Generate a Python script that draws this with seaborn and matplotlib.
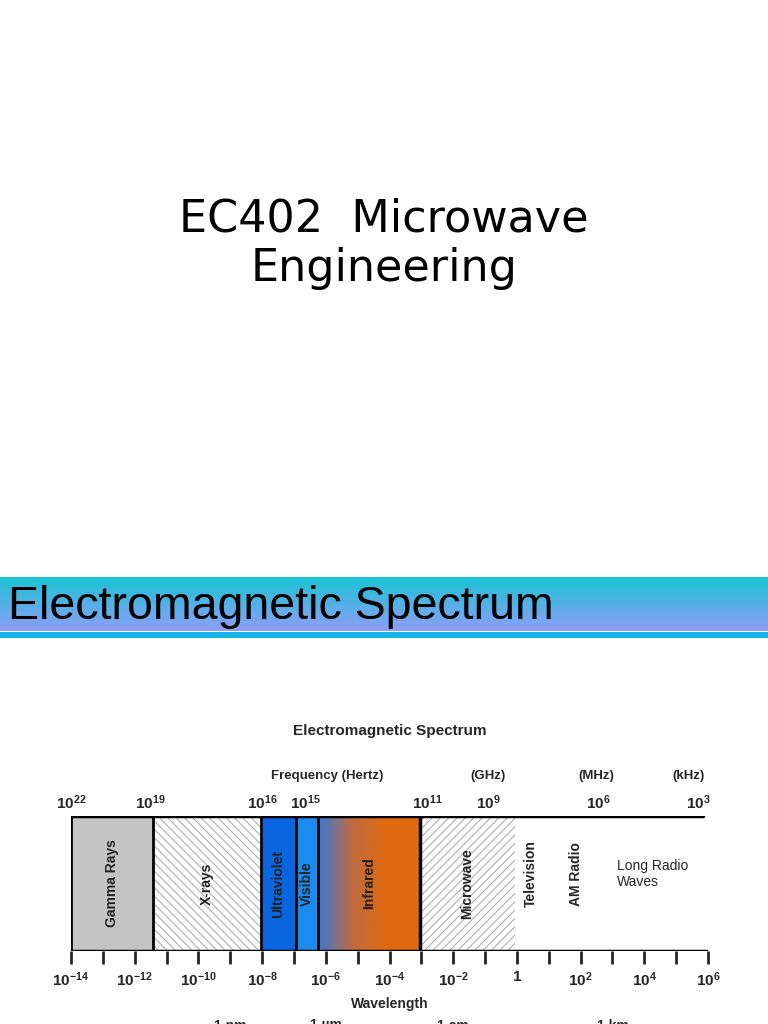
import numpy as np
import matplotlib
matplotlib.use('Agg')
import matplotlib.pyplot as plt
import seaborn as sns
from matplotlib.colors import LinearSegmentedColormap

sns.set_style('white')
plt.rcParams['font.family'] = ['DejaVu Sans']
plt.rcParams['mathtext.fontset'] = 'custom'
plt.rcParams['mathtext.rm'] = 'Liberation Sans'
plt.rcParams['mathtext.bf'] = 'Liberation Sans:bold'
plt.rcParams['hatch.color'] = '#b0b0b0'
plt.rcParams['hatch.linewidth'] = 0.8

# ── data: wavelength exponent (log10 m) ──
band_names  = ['Gamma Rays', 'X-rays', 'Ultraviolet', 'Visible', 'Infrared', 'Microwave']
band_start  = [-14.0, -11.43, -8.03, -6.94, -6.25, -3.04]
band_end    = [-11.43, -8.03, -6.94, -6.25, -3.04, -0.06]
band_colors = ['#c4c4c4', 'white', '#0a66e0', '#1a8cf0', None, 'white']
band_hatch  = [None, '\\\\\\\\', None, None, None, '////']
radio_names = ['Television', 'AM Radio']
radio_pos   = [0.45, 1.85]
wl_ticks    = list(range(-14, 7))
freq_labels = ['22', '19', '16', '15', '11', '9', '6', '3']
freq_pos    = [-14.0, -11.5, -8.0, -6.65, -2.82, -0.9, 2.55, 5.7]
unit_labels = ['Frequency (Hertz)', '(GHz)', '(MHz)', '(kHz)']
unit_pos    = [-5.96, -0.9, 2.5, 5.4]
scale_labels = ['1 nm', '1 \u00b5m', '1 cm', '1 km']
scale_pos    = [-9.0, -6.0, -2.0, 3.0]

fig = plt.figure(figsize=(7.68, 10.24), dpi=100)
W, H = 768, 1024

# ── slide title ──
fig.text(0.5, 1 - 244 / H, 'EC402  Microwave\nEngineering', ha='center', va='center',
         fontsize=32, linespacing=1.2, color='black')

# ── header band ──
hax = fig.add_axes([0, 1 - 631 / H, 1, 54 / H])
grad = np.linspace(0, 1, 100).reshape(-1, 1)
cmap_h = LinearSegmentedColormap.from_list('h', ['#8f9ef8', '#1ac3d4'])
hax.imshow(grad, aspect='auto', cmap=cmap_h, origin='lower', extent=[0, 1, 0, 1])
hax.axis('off')
lax = fig.add_axes([0, 1 - 638 / H, 1, 6 / H])
lax.set_facecolor('#16b4e8')
lax.set_xticks([]); lax.set_yticks([])
for s in lax.spines.values():
    s.set_visible(False)
fig.text(8 / W, 1 - 607 / H, 'Electromagnetic Spectrum', ha='left', va='center',
         fontsize=33.5, family='Liberation Sans', color='black')

# ── spectrum ──
x0, x1 = 71, 708
ax = fig.add_axes([x0 / W, 1 - 951 / H, (x1 - x0) / W, 135 / H])
ax.set_xlim(-14, 6)
ax.set_ylim(0, 1)
for name, a, b, c, h in zip(band_names, band_start, band_end, band_colors, band_hatch):
    if c is None:
        cm = LinearSegmentedColormap.from_list('ir', ['#3a7ad8', '#c06a40', '#e06a10', '#e06a10'])
        ax.imshow(np.linspace(0, 1, 200).reshape(1, -1), aspect='auto', cmap=cm,
                  extent=[a, b, 0, 1], zorder=1)
    else:
        ax.barh(0.5, b - a, left=a, height=1, color=c, hatch=h,
                edgecolor='#b0b0b0' if h else c, linewidth=0, zorder=1)
    ax.axvline(a, color='black', lw=2, zorder=3)
    ax.text((a + b) / 2, 0.5, name, rotation=90, ha='center', va='center',
            fontsize=10, fontweight='bold', family='Liberation Sans', zorder=4,
            color='#222222')
ax.axvline(band_end[4], color='black', lw=2.5, zorder=3)
for name, p in zip(radio_names, radio_pos):
    ax.text(p, 0.57, name, rotation=90, ha='center', va='center', fontsize=10,
            fontweight='bold', family='Liberation Sans')
ax.text(3.15, 0.57, 'Long Radio\nWaves', ha='left', va='center', fontsize=10,
        family='Liberation Sans', linespacing=1.15)
ax.axhline(1, xmax=(703 - x0) / (x1 - x0), color='black', lw=2.5, zorder=5)
ax.axhline(0, color='black', lw=2.5, zorder=5)
for s in ax.spines.values():
    s.set_visible(False)
ax.set_yticks([])
ax.set_xticks(wl_ticks)
ax.set_xticklabels([r'$\mathbf{10^{%d}}$' % t if (t % 2 == 0 and t != 0) else ('1' if t == 0 else '')
                    for t in wl_ticks], fontsize=11, fontweight='bold', family='Liberation Sans')
ax.tick_params(axis='x', length=9, width=2, direction='out', bottom=True, pad=5)
ax.set_xlabel('Wavelength', fontsize=10, fontweight='bold', family='Liberation Sans', labelpad=6)

for lab, p in zip(freq_labels, freq_pos):
    ax.text(p, 1.03, r'$\mathbf{10^{%s}}$' % lab, ha='center', va='bottom', fontsize=11)
for lab, p in zip(unit_labels, unit_pos):
    ax.text(p, 1.25, lab, ha='center', va='bottom', fontsize=9.5, fontweight='bold',
            family='Liberation Sans')
ax.text(-4.0, 1.58, 'Electromagnetic Spectrum', ha='center', va='bottom', fontsize=11,
        fontweight='bold', family='Liberation Sans')
for lab, p in zip(scale_labels, scale_pos):
    ax.text(p, -0.5, lab, ha='center', va='top', fontsize=10, fontweight='bold',
            family='Liberation Sans', clip_on=False)

fig.savefig('out.png', dpi=100)
